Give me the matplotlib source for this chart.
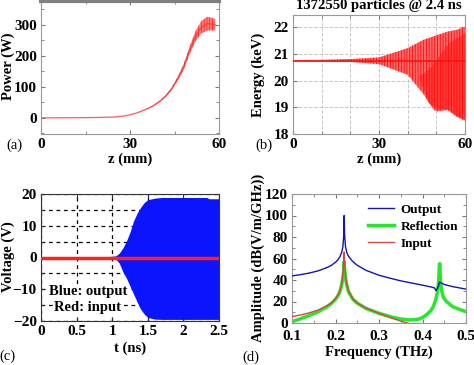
import numpy as np
import matplotlib
matplotlib.use("Agg")
import matplotlib.pyplot as plt
from matplotlib.ticker import MultipleLocator

plt.rcParams['font.family'] = ['Liberation Serif', 'DejaVu Serif']
plt.rcParams['font.weight'] = 'bold'
plt.rcParams['hatch.linewidth'] = 0.6

# ---------------- data ----------------
# (a) power along z
z_a = [0, 15, 20, 25, 28, 30, 32, 34, 36, 38, 40, 42, 44, 46, 48, 50, 52, 54, 56, 58, 58.7]
p_a = [0, 0.8, 1.5, 3, 6, 10, 15, 22, 30, 40, 53, 70, 93, 125, 162, 215, 262, 292, 304, 302, 300]
p_hw = [0, 0, 0, 0, 0, 0, 0, 0.5, 1, 1.5, 2, 3, 4, 6, 9, 12, 16, 20, 22, 20, 18]

# (b) particle energy envelope
z_b = [0, 10, 20, 30, 40, 45.5, 49, 50, 54, 57, 59.5, 60]
e_up = [20.77, 20.78, 20.81, 20.87, 21.22, 21.53, 21.66, 21.70, 21.84, 21.90, 22.00, 22.0]
e_lo = [20.73, 20.72, 20.70, 20.62, 20.22, 19.50, 18.92, 18.85, 18.90, 18.65, 18.52, 18.5]
z_core = [44, 47, 50, 54, 57, 60]
core_up = [20.2, 20.4, 20.8, 21.4, 21.6, 21.8]
core_lo = [20.1, 19.2, 18.95, 18.95, 18.7, 18.55]
e_base = 20.75

# (c) voltage envelopes
t_c = [0, 0.95, 1.05, 1.10, 1.15, 1.20, 1.25, 1.30, 1.35, 1.40, 1.45, 1.50, 1.60, 1.70, 2.00, 2.33, 2.36, 2.50]
v_up = [0.3, 0.3, 0.5, 1.4, 3.0, 5.2, 8.0, 11.5, 14.0, 15.8, 17.3, 18.2, 18.7, 18.9, 18.9, 18.9, 18.5, 18.5]
v_lo = [-0.3, -0.3, -0.5, -1.8, -4.5, -6.5, -9.0, -11.5, -14.0, -16.3, -17.8, -18.9, -19.4, -19.5, -19.5, -19.5, -19.5, -19.5]
t_in = [0, 2.5]
v_in = [0, 0]

# (d) spectra
f_out = [0.10, 0.12, 0.14, 0.16, 0.18, 0.19, 0.20, 0.205, 0.21, 0.214, 0.217, 0.219, 0.220,
         0.221, 0.223, 0.226, 0.23, 0.24, 0.25, 0.27, 0.30, 0.33, 0.35, 0.38, 0.40, 0.42,
         0.428, 0.431, 0.434, 0.437, 0.439, 0.442, 0.45, 0.47, 0.50]
a_out = [43.8, 45, 46.5, 48.5, 51.5, 53.5, 56.5, 58.5, 61.5, 65.5, 71, 82, 100,
         82, 71, 65.5, 62, 57, 53.7, 49, 44.4, 41.2, 39.2, 36.8, 35.2, 33.5,
         32.5, 30, 32, 35, 38, 37.5, 35.8, 33.8, 31.5]
f_ref = [0.10, 0.12, 0.14, 0.16, 0.18, 0.19, 0.20, 0.205, 0.21, 0.214, 0.217, 0.219, 0.220,
         0.221, 0.223, 0.226, 0.23, 0.24, 0.25, 0.27, 0.30, 0.33, 0.35, 0.37, 0.39, 0.40,
         0.41, 0.42, 0.425, 0.43, 0.434, 0.437, 0.439, 0.440, 0.441, 0.444, 0.448, 0.455, 0.47, 0.50]
a_ref = [1.2, 4, 7, 10.5, 15, 18, 22, 25, 29, 35, 42, 50, 57,
         50, 42, 35, 29, 22, 18.5, 13.5, 9, 5.5, 3.7, 2.8, 3.5, 5,
         8, 12, 15.5, 21, 28, 38, 55, 55, 40, 30, 24, 20, 15, 10.5]
f_in = [0.10, 0.12, 0.14, 0.16, 0.18, 0.19, 0.20, 0.205, 0.21, 0.214, 0.217, 0.219, 0.220,
        0.221, 0.223, 0.226, 0.23, 0.24, 0.25, 0.27, 0.30, 0.33, 0.35, 0.37]
a_in = [5.9, 7.5, 9.5, 12, 16, 18.5, 22.5, 25.5, 30, 36, 45, 58, 66,
        55, 44, 36, 30, 22.5, 18.5, 14, 9, 4.5, 1.8, -0.5]

# ---------------- figure ----------------
W, H = 474, 365
fig = plt.figure(figsize=(W / 100, H / 100), dpi=100)


def axes_px(l, t, r, b):
    return fig.add_axes([l / W, 1 - b / H, (r - l) / W, (b - t) / H])


def style(ax, spine_col='#999999'):
    for s in ax.spines.values():
        s.set_color(spine_col)
        s.set_linewidth(0.8)
    ax.tick_params(which='both', direction='in', top=True, right=True,
                   color='#777777', labelsize=11, pad=3)
    ax.tick_params(which='major', length=3)
    ax.tick_params(which='minor', length=2)


FS = 10.5

# (a)
ax = axes_px(41, 1, 219, 134)
style(ax)
ax.spines['top'].set_color('#808080')
ax.spines['top'].set_linewidth(3)
ax.plot(z_a, p_a, color='#ff3030', lw=0.9, alpha=0.8)
ax.fill_between(z_a, np.array(p_a) - np.array(p_hw), np.array(p_a) + np.array(p_hw),
                facecolor='#ff7070', edgecolor='#ff2020', hatch='||||||', lw=0, alpha=0.9)
ax.set_xlim(0, 60)
ax.set_ylim(-52, 377)
ax.set_xticks([0, 30, 60])
ax.xaxis.set_minor_locator(MultipleLocator(15))
ax.set_yticks([0, 100, 200, 300])
ax.yaxis.set_minor_locator(MultipleLocator(50))
fig.text(8 / W, 1 - 66 / H, 'Power (W)', rotation=90, ha='center', va='center', fontsize=FS)
fig.text(130 / W, 1 - 159 / H, 'z (mm)', ha='center', va='center', fontsize=FS)
fig.text(14 / W, 1 - 145 / H, '(a)', ha='center', va='center', fontsize=FS, fontweight='normal')

# (b)
ax = axes_px(293, 15, 465, 134)
style(ax)
ax.fill_between(z_b, e_lo, e_up, facecolor='#ff6a6a', edgecolor='#ff0a0a', hatch='||||||', lw=0, zorder=2)
ax.fill_between(z_core, core_lo, core_up, color='#ff1010', alpha=0.55, lw=0, zorder=3)
ax.plot([0, 60], [e_base, e_base], color='#ff1010', lw=1.2, zorder=3)
ax.set_xlim(0, 60)
ax.set_ylim(18, 22.46)
ax.set_xticks([0, 30, 60])
ax.xaxis.set_minor_locator(MultipleLocator(10))
ax.set_yticks([18, 19, 20, 21, 22])
ax.grid(True, which='both', axis='x', color='#c8c8c8', ls='--', lw=0.7, zorder=0)
ax.grid(True, which='major', axis='y', color='#c8c8c8', ls='--', lw=0.7, zorder=0)
ax.set_axisbelow(True)
fig.text(379 / W, 1 - 6 / H, '1372550 particles @ 2.4 ns', ha='center', va='center', fontsize=FS)
fig.text(258 / W, 1 - 75 / H, 'Energy (keV)', rotation=90, ha='center', va='center', fontsize=FS)
fig.text(379 / W, 1 - 159 / H, 'z (mm)', ha='center', va='center', fontsize=FS)
fig.text(264 / W, 1 - 145 / H, '(b)', ha='center', va='center', fontsize=FS, fontweight='normal')

# (c)
ax = axes_px(41, 194, 219, 321)
style(ax, spine_col='#333333')
ax.tick_params(which='both', direction='in', color='#333333')
ax.fill_between(t_c, v_lo, v_up, color='#0a14ff', lw=0, zorder=2)
ax.plot(t_in, v_in, color='#ff2020', lw=2.5, zorder=3)
ax.set_xlim(0, 2.5)
ax.set_ylim(-20, 20)
ax.set_xticks([0, 0.5, 1, 1.5, 2, 2.5])
ax.set_xticklabels(['0', '0.5', '1', '1.5', '2', '2.5'])
ax.set_yticks([-20, -10, 0, 10, 20])
ax.yaxis.set_minor_locator(MultipleLocator(5))
ax.xaxis.set_minor_locator(MultipleLocator(0.5))
ax.grid(True, which='both', color='black', ls=(0, (3, 3)), lw=0.9, zorder=0)
ax.set_axisbelow(True)
bb = dict(facecolor='white', edgecolor='none', pad=0.5)
fig.text(88 / W, 1 - 292 / H, 'Blue: output', ha='center', va='center', fontsize=FS, bbox=bb, zorder=5)
fig.text(88 / W, 1 - 308 / H, 'Red: input', ha='center', va='center', fontsize=FS, bbox=bb, zorder=5)
fig.text(8 / W, 1 - 257 / H, 'Voltage (V)', rotation=90, ha='center', va='center', fontsize=FS)
fig.text(130 / W, 1 - 348 / H, 't (ns)', ha='center', va='center', fontsize=FS)
fig.text(7 / W, 1 - 356 / H, '(c)', ha='center', va='center', fontsize=FS, fontweight='normal')

# (d)
ax = axes_px(292, 194, 466, 323)
style(ax)
ax.plot(f_out, a_out, color='#1414b4', lw=1.0, label='Output', zorder=3)
ax.plot(f_ref, a_ref, color='#28e628', lw=2.5, label='Reflection', zorder=2)
ax.plot(f_in, a_in, color='#d24646', lw=1.0, label='Input', zorder=4)
ax.set_xlim(0.1, 0.5)
ax.set_ylim(0, 120)
ax.set_xticks([0.1, 0.2, 0.3, 0.4, 0.5])
ax.set_xticklabels(['0.1', '0.2', '0.3', '0.4', '0.5'])
ax.xaxis.set_minor_locator(MultipleLocator(0.05))
ax.set_yticks(range(0, 121, 20))
ax.yaxis.set_minor_locator(MultipleLocator(10))
ax.tick_params(axis='x', pad=5)
leg = ax.legend(loc='upper right', bbox_to_anchor=(1.0, 0.985), frameon=False,
                fontsize=9.5, handlelength=2.0, handletextpad=0.5, labelspacing=0.35,
                borderaxespad=0.2)
fig.text(258 / W, 1 - 258 / H, 'Amplitude (dB(V/m/GHz))', rotation=90, ha='center', va='center', fontsize=FS)
fig.text(379 / W, 1 - 352 / H, 'Frequency (THz)', ha='center', va='center', fontsize=FS)
fig.text(251 / W, 1 - 357 / H, '(d)', ha='center', va='center', fontsize=FS, fontweight='normal')

fig.savefig('out.png', dpi=100)
